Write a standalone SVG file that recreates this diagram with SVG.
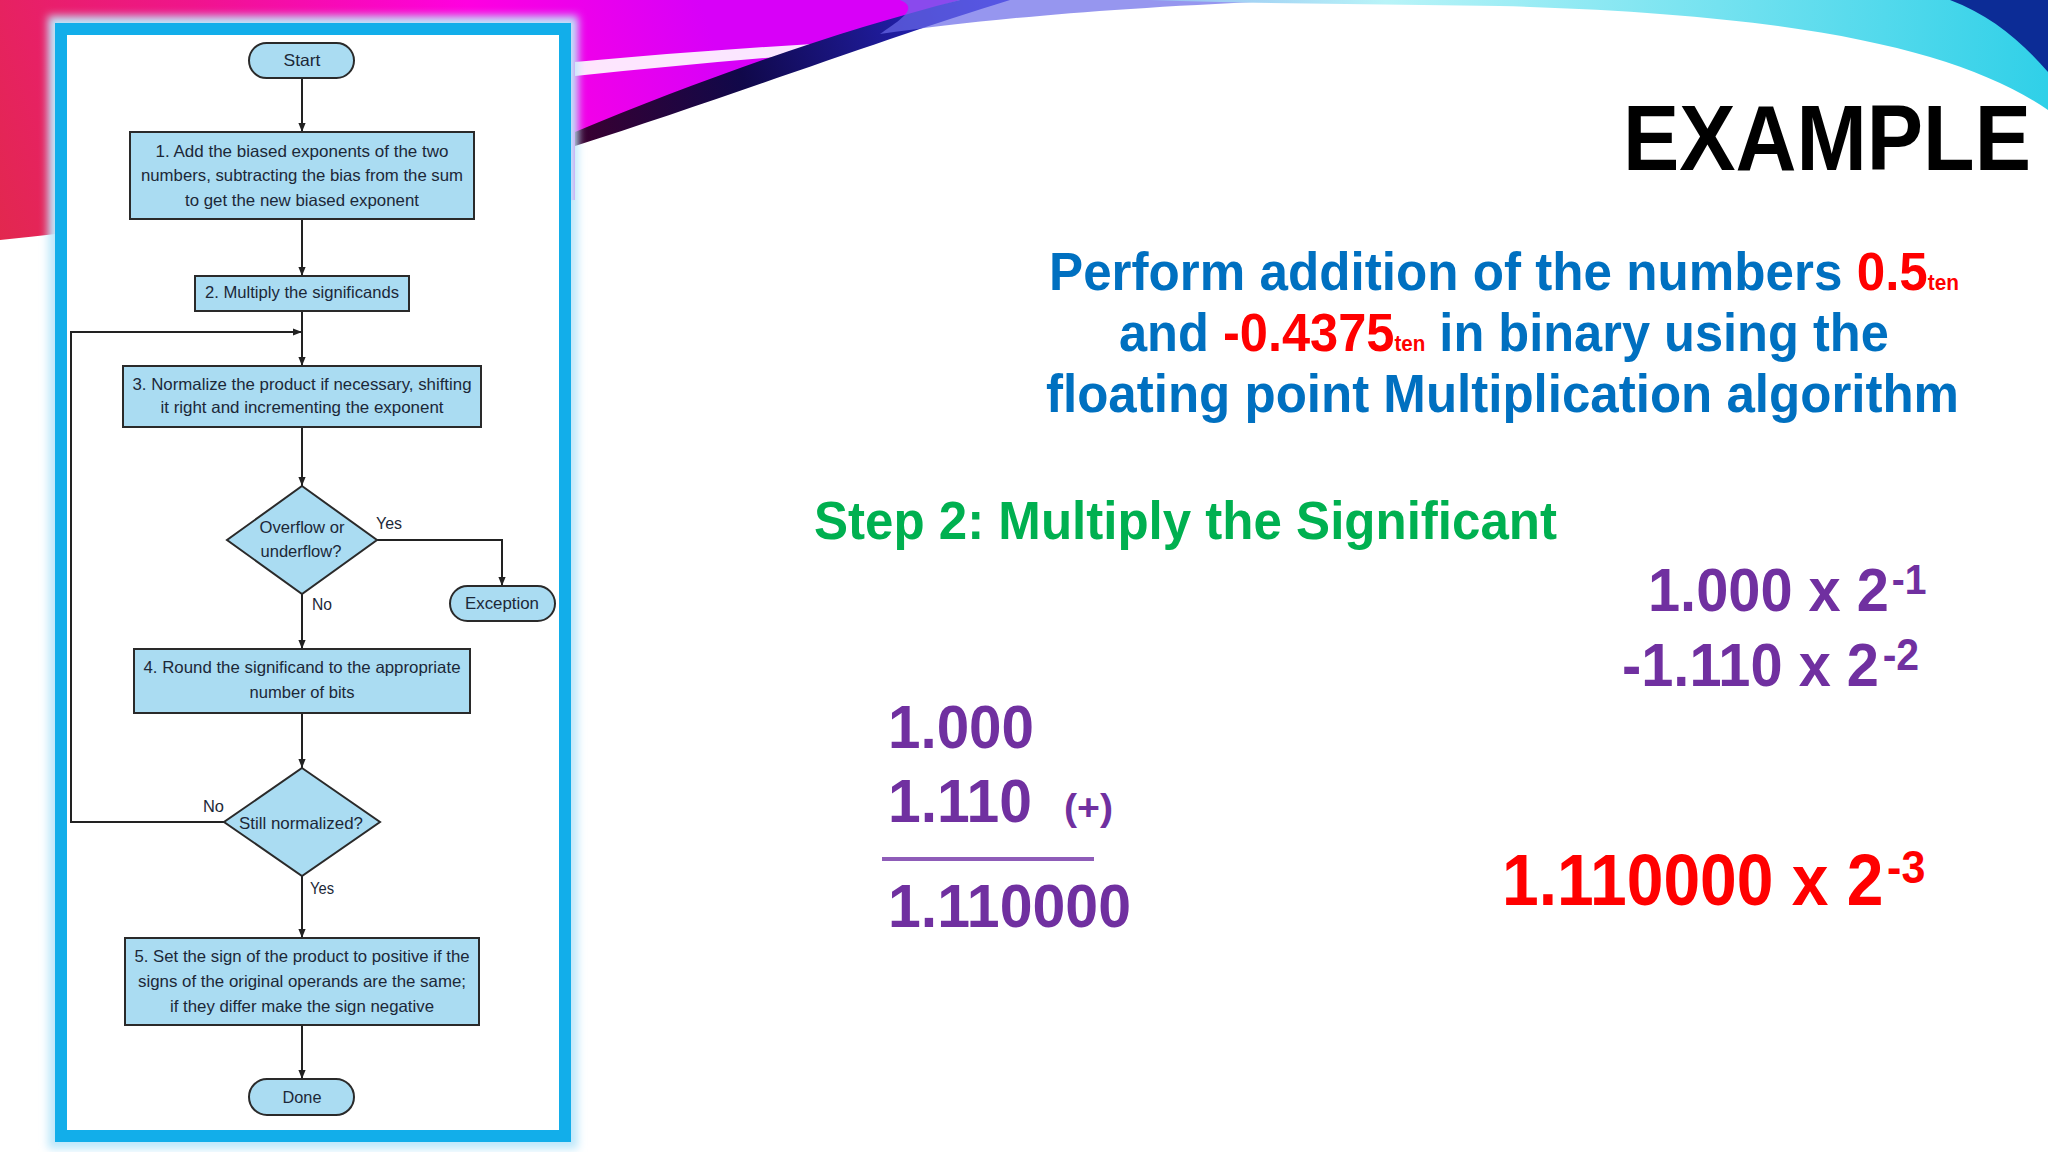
<svg xmlns="http://www.w3.org/2000/svg" width="2048" height="1152" viewBox="0 0 2048 1152">
<defs>
<linearGradient id="gPink" x1="0" y1="240" x2="700" y2="0" gradientUnits="userSpaceOnUse">
<stop offset="0" stop-color="#e2284e"/>
<stop offset="0.35" stop-color="#f0148c"/>
<stop offset="0.7" stop-color="#ff00e0"/>
<stop offset="1" stop-color="#d800f8"/>
</linearGradient>
<linearGradient id="gNavy" x1="575" y1="140" x2="1000" y2="0" gradientUnits="userSpaceOnUse">
<stop offset="0" stop-color="#3a0030"/>
<stop offset="0.4" stop-color="#10084a"/>
<stop offset="1" stop-color="#2a2ad8"/>
</linearGradient>
<linearGradient id="gCyan" x1="1100" y1="0" x2="2048" y2="60" gradientUnits="userSpaceOnUse">
<stop offset="0" stop-color="#8fb0f0"/>
<stop offset="0.3" stop-color="#b8f4f8"/>
<stop offset="1" stop-color="#30d0e8"/>
</linearGradient>
<marker id="arr" viewBox="0 0 10 10" refX="10" refY="5" markerWidth="9" markerHeight="11" markerUnits="userSpaceOnUse" orient="auto">
<path d="M0,1 L10,5 L0,9 Z" fill="#222"/>
</marker>
<filter id="glow" x="-10%" y="-10%" width="120%" height="120%">
<feGaussianBlur stdDeviation="4"/>
</filter>
<style>
.node{fill:#aadcf2;stroke:#2a2a2a;stroke-width:2}
.ft{font-family:"Liberation Sans",Arial,sans-serif;font-size:16.5px;fill:#1c2838;text-anchor:middle}
.lbl{font-family:"Liberation Sans",Arial,sans-serif;font-size:16px;fill:#1c2838}
.conn{fill:none;stroke:#222;stroke-width:2}
.b{font-family:"Liberation Sans",Arial,sans-serif;font-weight:bold}
.blue{fill:#0070c0}
.red{fill:#ff0000}
.pur{fill:#7030a0}
.grn{fill:#00b050}
</style>
</defs>

<rect x="0" y="0" width="2048" height="1152" fill="#ffffff"/>

<!-- decorative swooshes -->
<g id="decor">
<path d="M0,0 L960,0 C820,40 700,90 575,140 L575,200 C380,205 180,220 0,240 Z" fill="url(#gPink)"/>
<path d="M575,62 C680,52 800,44 920,38 L905,48 C800,54 690,64 575,76 Z" fill="#ffffff" opacity="0.9"/>
<path d="M575,132 C700,80 840,30 960,0 L1010,0 C880,40 720,100 575,146 Z" fill="url(#gNavy)"/>
<path d="M900,0 L1300,0 C1100,8 980,20 880,34 C900,20 920,8 900,0 Z" fill="#6a6ae8" opacity="0.7"/>
<path d="M1150,0 L2048,0 L2048,110 C1960,50 1800,14 1500,6 C1380,4 1260,4 1150,0 Z" fill="url(#gCyan)"/>
<path d="M1950,0 L2048,0 L2048,72 C2020,40 1990,15 1950,0 Z" fill="#0c2c96"/>
</g>

<!-- flowchart panel frame -->
<g id="panel">
<rect x="61" y="29" width="504" height="1107" fill="none" stroke="#bfe8fa" stroke-width="26" filter="url(#glow)"/>
<rect x="61" y="29" width="504" height="1107" fill="#ffffff" stroke="#12aeea" stroke-width="12"/>
</g>

<!-- connectors -->
<g id="connectors">
<line class="conn" x1="302" y1="78" x2="302" y2="132" marker-end="url(#arr)"/>
<line class="conn" x1="302" y1="219" x2="302" y2="276" marker-end="url(#arr)"/>
<line class="conn" x1="302" y1="311" x2="302" y2="366" marker-end="url(#arr)"/>
<polyline class="conn" points="224,822 71,822 71,332 302,332" marker-end="url(#arr)"/>
<line class="conn" x1="302" y1="427" x2="302" y2="486" marker-end="url(#arr)"/>
<polyline class="conn" points="377,540 502,540 502,586" marker-end="url(#arr)"/>
<line class="conn" x1="302" y1="594" x2="302" y2="649" marker-end="url(#arr)"/>
<line class="conn" x1="302" y1="713" x2="302" y2="768" marker-end="url(#arr)"/>
<line class="conn" x1="302" y1="876" x2="302" y2="938" marker-end="url(#arr)"/>
<line class="conn" x1="302" y1="1025" x2="302" y2="1079" marker-end="url(#arr)"/>
<text class="lbl" x="376" y="529" textLength="26" lengthAdjust="spacingAndGlyphs">Yes</text>
<text class="lbl" x="312" y="610" textLength="20" lengthAdjust="spacingAndGlyphs">No</text>
<text class="lbl" x="203" y="812" textLength="21" lengthAdjust="spacingAndGlyphs">No</text>
<text class="lbl" x="310" y="894" textLength="24" lengthAdjust="spacingAndGlyphs">Yes</text>
</g>

<g id="start">
<rect class="node" x="249" y="43" width="105" height="35" rx="17.5"/>
<text class="ft" x="302" y="66" textLength="37" lengthAdjust="spacingAndGlyphs">Start</text>
</g>

<g id="step1">
<rect class="node" x="130" y="132" width="344" height="87"/>
<text class="ft" x="302" y="157" textLength="293" lengthAdjust="spacingAndGlyphs">1.  Add the biased exponents of the two</text>
<text class="ft" x="302" y="181" textLength="322" lengthAdjust="spacingAndGlyphs">numbers, subtracting the bias from the sum</text>
<text class="ft" x="302" y="206" textLength="234" lengthAdjust="spacingAndGlyphs">to get the new biased exponent</text>
</g>

<g id="step2">
<rect class="node" x="195" y="276" width="214" height="35"/>
<text class="ft" x="302" y="298" textLength="194" lengthAdjust="spacingAndGlyphs">2. Multiply the significands</text>
</g>

<g id="step3">
<rect class="node" x="123" y="366" width="358" height="61"/>
<text class="ft" x="302" y="390" textLength="339" lengthAdjust="spacingAndGlyphs">3. Normalize the product if necessary, shifting</text>
<text class="ft" x="302" y="413" textLength="283" lengthAdjust="spacingAndGlyphs">it right and incrementing the exponent</text>
</g>

<g id="overflow">
<polygon class="node" points="302,486 377,540 302,594 227,540"/>
<text class="ft" x="302" y="533" textLength="85" lengthAdjust="spacingAndGlyphs">Overflow or</text>
<text class="ft" x="301" y="557" textLength="81" lengthAdjust="spacingAndGlyphs">underflow?</text>
</g>

<g id="exception">
<rect class="node" x="450" y="586" width="105" height="35" rx="17.5"/>
<text class="ft" x="502" y="609" textLength="74" lengthAdjust="spacingAndGlyphs">Exception</text>
</g>

<g id="step4">
<rect class="node" x="134" y="649" width="336" height="64"/>
<text class="ft" x="302" y="673" textLength="317" lengthAdjust="spacingAndGlyphs">4. Round the significand to the appropriate</text>
<text class="ft" x="302" y="698" textLength="105" lengthAdjust="spacingAndGlyphs">number of bits</text>
</g>

<g id="normalized">
<polygon class="node" points="302,768 380,822 302,876 224,822"/>
<text class="ft" x="301" y="829" textLength="124" lengthAdjust="spacingAndGlyphs">Still normalized?</text>
</g>

<g id="step5">
<rect class="node" x="125" y="938" width="354" height="87"/>
<text class="ft" x="302" y="962" textLength="335" lengthAdjust="spacingAndGlyphs">5. Set the sign of the product to positive if the</text>
<text class="ft" x="302" y="987" textLength="328" lengthAdjust="spacingAndGlyphs">signs of the original operands are the same;</text>
<text class="ft" x="302" y="1012" textLength="264" lengthAdjust="spacingAndGlyphs">if they differ make the sign negative</text>
</g>

<g id="done">
<rect class="node" x="249" y="1079" width="105" height="36" rx="18"/>
<text class="ft" x="302" y="1103" textLength="39" lengthAdjust="spacingAndGlyphs">Done</text>
</g>

<!-- right side content -->
<g id="title">
<text class="b" transform="translate(1623,170) scale(1,1.092)" x="0" y="0" font-size="84.4" fill="#000">EXAMPLE</text>
</g>

<g id="problem">
<text class="b blue" transform="translate(1049,290) scale(0.948,1)" font-size="54">Perform addition of the numbers <tspan class="red">0.5</tspan><tspan class="red" font-size="22">ten</tspan></text>
<text class="b blue" transform="translate(1119,351) scale(0.9365,1)" font-size="54">and <tspan class="red">-0.4375</tspan><tspan class="red" font-size="22">ten</tspan> in binary using the</text>
<text class="b blue" x="1046" y="412" font-size="54" textLength="913" lengthAdjust="spacingAndGlyphs">floating point Multiplication algorithm</text>
</g>

<g id="step-heading">
<text class="b grn" x="814" y="539" font-size="54" textLength="743" lengthAdjust="spacingAndGlyphs">Step 2: Multiply the Significant</text>
</g>

<g id="operands">
<text class="b pur" transform="translate(1648,611) scale(0.932,1)" font-size="62">1.000 x 2<tspan font-size="42" dx="3" dy="-17">-1</tspan></text>
<text class="b pur" transform="translate(1622,686) scale(0.932,1)" font-size="62">-1.110 x 2<tspan font-size="44" dx="4" dy="-16">-2</tspan></text>
</g>

<g id="work">
<text class="b pur" x="888" y="748" font-size="62" textLength="146" lengthAdjust="spacingAndGlyphs">1.000</text>
<text class="b pur" x="888" y="822" font-size="62" textLength="144" lengthAdjust="spacingAndGlyphs">1.110</text>
<text class="b pur" x="1064" y="820" font-size="36" textLength="49" lengthAdjust="spacingAndGlyphs">(+)</text>
<line x1="882" y1="859" x2="1094" y2="859" stroke="#8e5cb8" stroke-width="4"/>
<text class="b pur" x="888" y="927" font-size="62" textLength="243" lengthAdjust="spacingAndGlyphs">1.110000</text>
</g>

<g id="result">
<text class="b red" transform="translate(1502,905) scale(0.916,1)" font-size="72">1.110000 x 2<tspan font-size="47" dx="4" dy="-22">-3</tspan></text>
</g>
</svg>
